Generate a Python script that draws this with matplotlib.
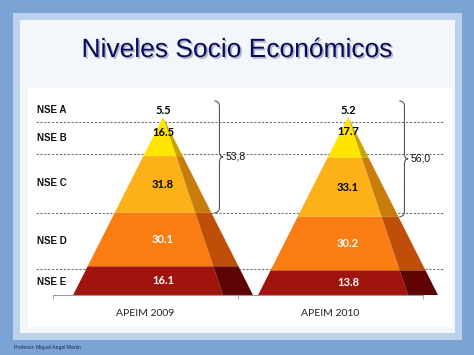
import numpy as np
import matplotlib.pyplot as plt
from matplotlib.patches import Rectangle, Polygon, PathPatch
from matplotlib.path import Path
import matplotlib.patheffects as pe

# data
categories = ['APEIM 2009', 'APEIM 2010']
levels = ['NSE A', 'NSE B', 'NSE C', 'NSE D', 'NSE E']
values_2009 = [5.5, 16.5, 31.8, 30.1, 16.1]
values_2010 = [5.2, 17.7, 33.1, 30.2, 13.8]
brace_labels = ['53,8', '56,0']
row_edges = [97.2, 79.2, 46.1, 14.6]   # dashed separators between NSE rows

band_colors = ['#FFE500', '#FFE500', '#FBB117', '#F97D12', '#A1140E']
side_colors = ['#C9A400', '#C9A400', '#C77C0C', '#BF4F08', '#5E0404']
text_colors = ['black', 'black', 'black', 'white', 'white']

W, H = 474, 355
fig = plt.figure(figsize=(W / 100, H / 100), dpi=100)
fig.patch.set_facecolor('#7BA3D3')

def px_rect(x0, y0, x1, y1, color):
    fig.patches.append(Rectangle((x0 / W, 1 - y1 / H), (x1 - x0) / W, (y1 - y0) / H,
                                 transform=fig.transFigure, facecolor=color,
                                 edgecolor='none', zorder=-1))

px_rect(13, 13, 462, 340, '#BCD2EC')
px_rect(20, 20, 455, 333, '#F3F6FA')
px_rect(28, 88, 452, 327, 'white')

fig.text(237 / W, 1 - 50 / H, 'Niveles Socio Económicos', ha='center', va='center',
         fontsize=19, color='#0B0B5C', family='Liberation Sans',
         path_effects=[pe.withSimplePatchShadow(offset=(1.2, -1.2), shadow_rgbFace='#9AA4B8', alpha=0.8)])
fig.text(14 / W, 1 - 348 / H, 'Profesor: Miguel Angel Martin', ha='left', va='center',
         fontsize=3.6, color='#1B2B55', family='Liberation Sans')

# chart axes: 1.78 px per percentage point, baseline at y=295 px
ax = fig.add_axes([28 / W, (H - 295) / H, 424 / W, 207 / H])
ax.set_zorder(2)
ax.set_xlim(-0.635, 1.657)
ax.set_ylim(0, 207 / 1.78)
ax.patch.set_alpha(0)

narrow = ['Liberation Sans Narrow', 'Liberation Sans', 'DejaVu Sans']

for y in row_edges:
    ax.plot([-0.592, 1.608], [y, y], color='#707070', lw=0.8, ls=(0, (2, 1.5)), zorder=1)

row_tops = [110.5] + row_edges
row_bots = row_edges + [0]
for lab, t, b in zip(levels, row_tops, row_bots):
    ax.text(-0.586, (t + b) / 2, lab, ha='left', va='center', fontsize=7,
            fontweight='bold', family=narrow, color='#111111')

half_w, split = 0.486, 0.324
offset = 0.095

def brace(x, y0, y1, label):
    ym = (y0 + y1) / 2
    w, tip, r = 0.028, 0.048, 3.0
    verts = [(x - w, y1), (x, y1), (x, y1 - r),
             (x, ym + r), (x, ym), (x + tip - w, ym),
             (x, ym), (x, ym - r),
             (x, y0 + r), (x, y0), (x - w, y0)]
    codes = [Path.MOVETO, Path.CURVE3, Path.CURVE3,
             Path.LINETO, Path.CURVE3, Path.CURVE3,
             Path.CURVE3, Path.CURVE3,
             Path.LINETO, Path.CURVE3, Path.CURVE3]
    ax.add_patch(PathPatch(Path(verts, codes), facecolor='none', edgecolor='#555555', lw=0.8, zorder=3))
    ax.text(x + tip - w + 0.015, ym, label, ha='left', va='center', fontsize=7.5,
            family=narrow, color='#111111')

for i, vals in enumerate([values_2009, values_2010]):
    cx = i + offset
    total = sum(vals)
    tops = total - np.concatenate([[0], np.cumsum(vals)[:-1]])
    bots = tops - np.array(vals)
    hw = lambda h: half_w * (1 - h / total)
    sp = lambda h: split * (1 - h / total)
    for k, (t, b) in enumerate(zip(tops, bots)):
        front = [(cx - hw(b), b), (cx + sp(b), b), (cx + sp(t), t), (cx - hw(t), t)]
        side = [(cx + sp(b), b), (cx + hw(b), b), (cx + hw(t), t), (cx + sp(t), t)]
        ax.add_patch(Polygon(front, closed=True, facecolor=band_colors[k], edgecolor='none', zorder=2))
        ax.add_patch(Polygon(side, closed=True, facecolor=side_colors[k], edgecolor='none', zorder=2))
        if k == 0:
            ty = total + 3.5
        elif k == 1:
            ty = t - 3
        else:
            ty = (t + b) / 2
        ax.text(cx, ty, f'{vals[k]:.1f}', ha='center', va='center', fontsize=8,
                fontweight='bold', family=['Lato', 'DejaVu Sans'], color=text_colors[k], zorder=4)
    brace(i + 0.40, bots[2], 109, brace_labels[i])

ax.set_xticks([0, 1])
ax.set_xticklabels(categories, fontsize=7.5, family=['Lato', 'DejaVu Sans'], color='#222222')
ax.tick_params(axis='x', which='major', length=0, pad=10)
ax.set_xticks([-0.5, 0.5, 1.5], minor=True)
ax.tick_params(axis='x', which='minor', length=3, color='#999999', direction='out')
ax.set_yticks([])
for s in ['top', 'right', 'left']:
    ax.spines[s].set_visible(False)
ax.spines['bottom'].set_bounds(-0.5, 1.5)
ax.spines['bottom'].set_color('#999999')
ax.spines['bottom'].set_linewidth(0.8)

fig.savefig('out.png', dpi=100, facecolor=fig.get_facecolor())
